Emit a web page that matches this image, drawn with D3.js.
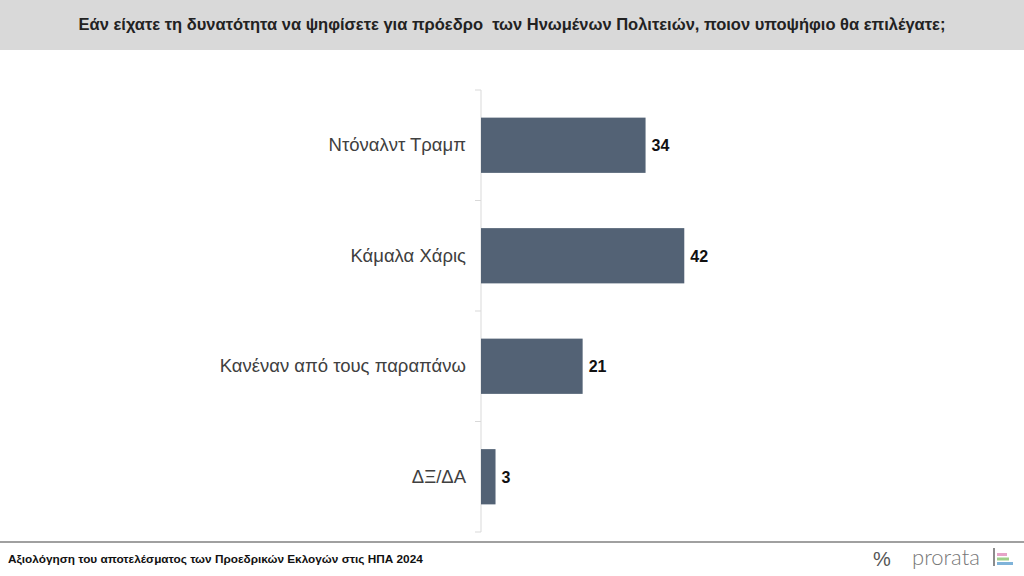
<!DOCTYPE html>
<html><head><meta charset="utf-8">
<script src="https://cdn.jsdelivr.net/npm/d3@7"></script>
<style>body{margin:0;background:#fff;font-family:Arial,"Liberation Sans",sans-serif}</style>
</head><body><div id="chart"></div>
<script>
var categories = ["Ντόναλντ Τραμπ", "Κάμαλα Χάρις", "Κανέναν από τους παραπάνω", "ΔΞ/ΔΑ"];
var values = [34, 42, 21, 3];
var title = "Εάν είχατε τη δυνατότητα να ψηφίσετε για πρόεδρο  των Ηνωμένων Πολιτειών, ποιον υποψήφιο θα επιλέγατε;";
var footer = "Αξιολόγηση του αποτελέσματος των Προεδρικών Εκλογών στις ΗΠΑ 2024";

var W = 1024, H = 576;
var svg = d3.select("#chart").append("svg").attr("width", W).attr("height", H);

svg.append("rect").attr("width", W).attr("height", 50).attr("fill", "#d9d9d9");
svg.append("text").attr("x", 512).attr("y", 30).attr("text-anchor", "middle")
    .attr("font-size", 16.5).attr("font-weight", "bold").attr("fill", "#222")
    .attr("xml:space", "preserve").text(title);

var x = d3.scaleLinear().domain([0, 100]).range([481, 481 + 484]);
var y = d3.scaleBand().domain(categories).range([90, 532]).paddingInner(0.5).paddingOuter(0.25);

// axis line and ticks at band boundaries
svg.append("line").attr("x1", 481).attr("x2", 481).attr("y1", 90).attr("y2", 532)
    .attr("stroke", "#d9d9d9");
var bounds = categories.map(function(d) { return y(d) - y.step() * y.paddingInner() / 2; });
bounds.push(532);
svg.selectAll(".tick").data(bounds).enter().append("line")
    .attr("x1", 475).attr("x2", 481).attr("y1", function(d) { return d; }).attr("y2", function(d) { return d; })
    .attr("stroke", "#d9d9d9");

svg.selectAll(".bar").data(values).enter().append("rect")
    .attr("x", x(0)).attr("y", function(d, i) { return y(categories[i]); })
    .attr("width", function(d) { return x(d) - x(0); }).attr("height", y.bandwidth())
    .attr("fill", "#536275");

svg.selectAll(".val").data(values).enter().append("text")
    .attr("x", function(d) { return x(d) + 6; })
    .attr("y", function(d, i) { return y(categories[i]) + y.bandwidth() / 2 + 6; })
    .attr("font-size", 16).attr("font-weight", "bold").attr("fill", "#111")
    .text(function(d) { return d; });

svg.selectAll(".cat").data(categories).enter().append("text")
    .attr("x", 466).attr("y", function(d) { return y(d) + y.bandwidth() / 2 + 6; })
    .attr("text-anchor", "end").attr("font-size", 18.5).attr("fill", "#404040")
    .text(function(d) { return d; });

svg.append("line").attr("x1", 0).attr("x2", W).attr("y1", 542).attr("y2", 542)
    .attr("stroke", "#808080").attr("stroke-width", 1.5);
svg.append("text").attr("x", 8).attr("y", 563).attr("font-size", 11.8).attr("font-weight", "bold")
    .attr("fill", "#111").text(footer);

// logo
svg.append("text").attr("x", 873).attr("y", 566).attr("font-size", 20).attr("fill", "#555").text("%");
svg.append("text").attr("x", 912).attr("y", 565).attr("font-size", 22).attr("fill", "#777")
    .attr("font-family", "Lato, sans-serif").attr("font-weight", 300).text("prorata");
svg.append("line").attr("x1", 994).attr("x2", 994).attr("y1", 548).attr("y2", 566).attr("stroke", "#666").attr("stroke-width", 1.5);
var logoColors = ["#e6a3c8", "#9fd08a", "#7fb3d9"];
svg.selectAll(".lg").data(logoColors).enter().append("rect")
    .attr("x", 997).attr("y", function(d, i) { return 553 + i * 4.5; })
    .attr("width", function(d, i) { return [10, 12, 16][i]; }).attr("height", 3).attr("fill", function(d) { return d; });
</script></body></html>
